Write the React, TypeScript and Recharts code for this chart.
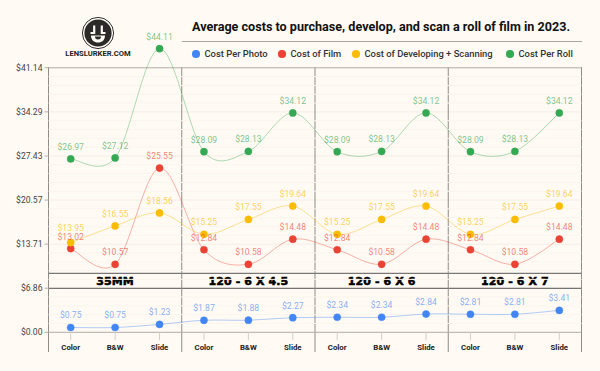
import React from "react";
import { ComposedChart, Line, XAxis, YAxis, ReferenceLine, LabelList, CartesianGrid, usePlotArea } from "recharts";

const categories = ["Color", "B&W", "Slide", "Color", "B&W", "Slide", "Color", "B&W", "Slide", "Color", "B&W", "Slide"];
const costPerPhoto = [0.75, 0.75, 1.23, 1.87, 1.88, 2.27, 2.34, 2.34, 2.84, 2.81, 2.81, 3.41];
const costOfFilm = [13.02, 10.57, 25.55, 12.84, 10.58, 14.48, 12.84, 10.58, 14.48, 12.84, 10.58, 14.48];
const costOfDeveloping = [13.95, 16.55, 18.56, 15.25, 17.55, 19.64, 15.25, 17.55, 19.64, 15.25, 17.55, 19.64];
const costPerRoll = [26.97, 27.12, 44.11, 28.09, 28.13, 34.12, 28.09, 28.13, 34.12, 28.09, 28.13, 34.12];
const yTicks = [0, 6.86, 13.71, 20.57, 27.43, 34.29, 41.14];
const minorTicks = [1.37, 2.74, 4.11, 5.49, 8.23, 9.6, 10.97, 12.34, 15.09, 16.46, 17.83, 19.2, 21.94, 23.31, 24.69, 26.06, 28.8, 30.17, 31.54, 32.91, 35.66, 37.03, 38.4, 39.77];
const formats = ["35MM", "120 - 6 X 4.5", "120 - 6 X 6", "120 - 6 X 7"];
const title = "Average costs to purchase, develop, and scan a roll of film in 2023.";
const series = [
  { key: "photo", name: "Cost Per Photo", color: "#4285F4", values: costPerPhoto },
  { key: "film", name: "Cost of Film", color: "#EA4335", values: costOfFilm },
  { key: "dev", name: "Cost of Developing + Scanning", color: "#FBBC04", values: costOfDeveloping },
  { key: "roll", name: "Cost Per Roll", color: "#34A853", values: costPerRoll },
];
const rows = categories.map((c, i) => ({
  i, c, photo: costPerPhoto[i], film: costOfFilm[i], dev: costOfDeveloping[i], roll: costPerRoll[i],
}));

const BG = "#FFFAF4";
const LINE = "#8f8b86";

// Catmull-Rom style curve as a d3-shape compatible curve factory.
function catmull(context: any) {
  let pts: [number, number][] = [];
  return {
    areaStart() {},
    areaEnd() {},
    lineStart() { pts = []; },
    point(x: number, y: number) { pts.push([+x, +y]); },
    lineEnd() {
      pts.forEach((p, i) => {
        if (i === 0) { context.moveTo(p[0], p[1]); return; }
        const p0 = pts[Math.max(i - 2, 0)];
        const p1 = pts[i - 1];
        const p3 = pts[Math.min(i + 1, pts.length - 1)];
        context.bezierCurveTo(
          p1[0] + (p[0] - p0[0]) / 6, p1[1] + (p[1] - p0[1]) / 6,
          p[0] - (p3[0] - p1[0]) / 6, p[1] - (p3[1] - p1[1]) / 6,
          p[0], p[1]
        );
      });
    },
  };
}

function Logo() {
  return (
    <svg width="34" height="34" viewBox="0 0 34 34" style={{ position: "absolute", left: 81, top: 16 }}>
      <circle cx="17" cy="17" r="15.6" fill={BG} stroke="#333" strokeWidth="1" />
      <circle cx="17" cy="17" r="13.6" fill="#2b2a29" />
      <path d="M13.2 9.5V17H9.5M20.8 9.5V17H24.5" fill="none" stroke={BG} strokeWidth="2.2" />
      <path d="M10 19.5H24C24 24 21 26.5 17 26.5S10 24 10 19.5Z" fill={BG} />
      <path d="M14 20.5H20C20 22.5 19 23.5 17 23.5S14 22.5 14 20.5Z" fill="#2b2a29" />
    </svg>
  );
}

function Frame() {
  const p = usePlotArea();
  if (!p) return null;
  const band = p.width / 12;
  const bTop = 273.3;
  const bBot = 288.3;
  return (
    <g>
      <line x1={p.x} x2={p.x + p.width} y1={bTop} y2={bTop} stroke="#555" />
      <line x1={p.x} x2={p.x + p.width} y1={bBot} y2={bBot} stroke="#555" />
      {[0, 3, 6, 9, 12].map((k) => (
        <line key={k} x1={p.x + k * band} x2={p.x + k * band} y1={67} y2={352} stroke={LINE} strokeWidth={1} />
      ))}
      {formats.map((f, k) => (
        <text key={f} x={p.x + (k * 3 + 1.5) * band} y={285.3} textAnchor="middle" fontFamily="'DejaVu Sans'" fontWeight={700} fontSize={11} fill="#000" stroke="#000" strokeWidth={0.55} letterSpacing={0.1}>{f}</text>
      ))}
    </g>
  );
}

function PointLabel(props: any) {
  const { x, y, value, index, color, seriesKey } = props;
  const lift = seriesKey === "dev" && index === 0 ? 2.5 : 0;
  return (
    <text x={x} y={y - 9 - lift} textAnchor="middle" fontSize={8.6} fontFamily="Roboto" fill={color} fillOpacity={0.65}>
      {"$" + Number(value).toFixed(2)}
    </text>
  );
}

export default function App() {
  React.useEffect(() => {
    document.body.style.margin = "0";
    document.body.style.background = BG;
  }, []);
  return (
    <div style={{ position: "absolute", left: 0, top: 0, width: 600, height: 371, background: BG, fontFamily: "Roboto, sans-serif", overflow: "hidden" }}>
      <Logo />
      <div style={{ position: "absolute", left: 63, top: 49, width: 70, fontSize: 7.6, fontWeight: 700, color: "#222", textAlign: "center", whiteSpace: "nowrap" }}>LENSLURKER.COM</div>
      <div style={{ position: "absolute", left: 192, top: 19, fontSize: 12.6, fontWeight: 700, color: "#111", whiteSpace: "nowrap" }}>{title}</div>
      <div style={{ position: "absolute", left: 182, top: 41, width: 400, height: 1, background: "#aaa6a0" }} />
      <div style={{ position: "absolute", top: 47, left: 0, fontSize: 9.4, fontWeight: 500, color: "#333" }}>
        {series.map((s, i) => {
          const dotX = [196, 282, 356, 510][i];
          return (
            <div key={s.key} style={{ position: "absolute", left: dotX - 4, top: 0, display: "flex", alignItems: "center", whiteSpace: "nowrap", lineHeight: "14px" }}>
              <span style={{ width: 7.5, height: 7.5, borderRadius: "50%", background: s.color, display: "inline-block", marginRight: 5 }} />
              {s.name}
            </div>
          );
        })}
      </div>
      <ComposedChart
        width={600}
        height={371}
        data={rows}
        margin={{ top: 48.7, right: 18.5, bottom: 0, left: 0 }}
        style={{ position: "absolute", left: 0, top: 0 }}
      >
        <XAxis
          dataKey="i"
          type="category"
          tickFormatter={(i: number) => categories[i]}
          interval={0}
          padding={{ left: 22.2, right: 22.2 }}
          axisLine={{ stroke: "#b5b1ab" }}
          tickLine={{ stroke: "#d5d0c9" }}
          tickSize={8}
          height={38.7}
          tick={{ fontSize: 7.8, fontWeight: 700, fill: "#222", fontFamily: "Roboto" }}
          tickMargin={4.5}
        />
        <YAxis
          width={48.5}
          domain={[0, 44.11]}
          ticks={yTicks}
          interval={0}
          tickFormatter={(v: number) => "$" + v.toFixed(2)}
          tick={{ fontSize: 8.6, fill: "#444", fontFamily: "Roboto" }}
          axisLine={false}
          tickLine={{ stroke: "#b5b1ab" }}
          tickSize={4}
          tickMargin={2}
        />
        {minorTicks.map((v) => (
          <ReferenceLine key={v} y={v} stroke="#fbf5ec" strokeWidth={1} />
        ))}
        <CartesianGrid vertical={false} stroke="#f3ede4" horizontalValues={yTicks} />
        <ReferenceLine y={41.14} stroke="#b5b1ab" />
        {series.map((s) => (
          <Line
            key={s.key}
            dataKey={s.key}
            name={s.name}
            type={catmull as any}
            stroke={s.color}
            strokeOpacity={0.4}
            strokeWidth={1}
            isAnimationActive={false}
            dot={{ r: 3.6, fill: s.color, stroke: s.color, strokeOpacity: 1, strokeWidth: 0.4 }}
          >
            <LabelList
              dataKey={s.key}
              content={(props: any) => <PointLabel {...props} color={s.color} seriesKey={s.key} />}
            />
          </Line>
        ))}
        <Frame />
      </ComposedChart>
    </div>
  );
}
